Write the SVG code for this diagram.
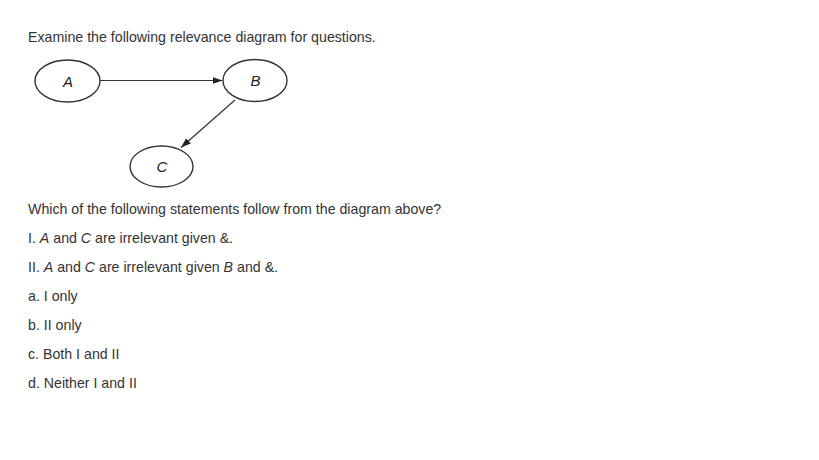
<svg xmlns="http://www.w3.org/2000/svg" width="819" height="460" viewBox="0 0 819 460">
<defs>
<style>
.t{font-family:"Liberation Sans",Arial,sans-serif;font-size:14.2px;fill:#333}
.n{fill:#fff;stroke:#333;stroke-width:1.4}
.l{font-family:"Liberation Sans",Arial,sans-serif;font-size:15px;font-style:italic;fill:#222;text-anchor:middle}
.c{stroke:#333;stroke-width:1.2;fill:none}
</style>
<marker id="ar" viewBox="0 0 10 10" refX="10" refY="5" markerWidth="10" markerHeight="10" markerUnits="userSpaceOnUse" orient="auto">
<path d="M0,1.5 L10,5 L0,8.5 z" fill="#222"/>
</marker>
</defs>
<rect width="819" height="460" fill="#fff"/>
<text class="t" x="28" y="42">Examine the following relevance diagram for questions.</text>
<g id="connectors">
<line class="c" x1="100" y1="80.5" x2="222.5" y2="80.5" marker-end="url(#ar)"/>
<line class="c" x1="235" y1="100" x2="181" y2="147.5" marker-end="url(#ar)"/>
</g>
<g id="node-A">
<ellipse class="n" cx="67.5" cy="81" rx="32.5" ry="21"/>
<text class="l" x="68" y="86.5">A</text>
</g>
<g id="node-B">
<ellipse class="n" cx="255" cy="80.5" rx="32" ry="21"/>
<text class="l" x="255.5" y="86">B</text>
</g>
<g id="node-C">
<ellipse class="n" cx="161.5" cy="166.5" rx="31.5" ry="20.5"/>
<text class="l" x="162" y="172">C</text>
</g>
<text class="t" x="28" y="214">Which of the following statements follow from the diagram above?</text>
<text class="t" x="28" y="243">I. <tspan font-style="italic">A</tspan> and <tspan font-style="italic">C</tspan> are irrelevant given &amp;.</text>
<text class="t" x="28" y="272">II. <tspan font-style="italic">A</tspan> and <tspan font-style="italic">C</tspan> are irrelevant given <tspan font-style="italic">B</tspan> and &amp;.</text>
<text class="t" x="28" y="301">a. I only</text>
<text class="t" x="28" y="330">b. II only</text>
<text class="t" x="28" y="359">c. Both I and II</text>
<text class="t" x="28" y="388">d. Neither I and II</text>
</svg>
